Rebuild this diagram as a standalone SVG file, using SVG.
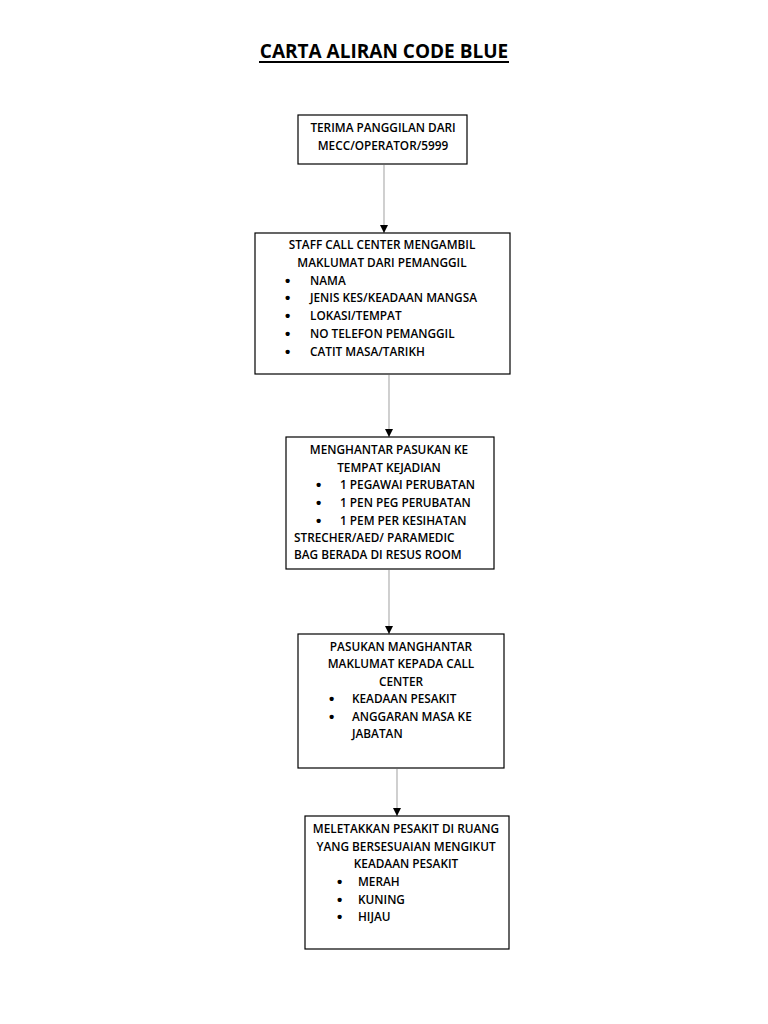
<svg xmlns="http://www.w3.org/2000/svg" width="768" height="1024" viewBox="0 0 768 1024">
<defs>
<marker id="ah" viewBox="0 0 10 10" refX="10" refY="5" markerWidth="8" markerHeight="8" markerUnits="userSpaceOnUse" orient="auto">
<path d="M0,0 L10,5 L0,10 Z" fill="#000"/>
</marker>
<style>
.box{fill:#fff;stroke:#000;stroke-width:1.2}
.t{font-family:"Open Sans","Liberation Sans",sans-serif;font-size:11.8px;font-weight:600;fill:#000}
.b{font-family:"Liberation Sans",sans-serif;font-size:15px;font-weight:700;fill:#000}
.c{text-anchor:middle}
.conn{stroke:#b0b0b0;stroke-width:1.2;fill:none}
</style>
</defs>
<rect width="768" height="1024" fill="#fff"/>
<g id="title">
<text x="384" y="58" class="c" style="font-family:'Open Sans','Liberation Sans',sans-serif;font-size:19px;font-weight:700">CARTA ALIRAN CODE BLUE</text>
<line x1="259" y1="62" x2="509" y2="62" stroke="#000" stroke-width="2"/>
</g>
<g id="connectors">
<line class="conn" x1="384" y1="165" x2="384" y2="233" marker-end="url(#ah)"/>
<line class="conn" x1="389" y1="375" x2="389" y2="437" marker-end="url(#ah)"/>
<line class="conn" x1="389" y1="570" x2="389" y2="634" marker-end="url(#ah)"/>
<line class="conn" x1="397" y1="769" x2="397" y2="816" marker-end="url(#ah)"/>
</g>
<g id="n1">
<rect class="box" x="298" y="115" width="169" height="49"/>
<text class="t c" x="383" y="132">TERIMA PANGGILAN DARI</text>
<text class="t c" x="383" y="150">MECC/OPERATOR/5999</text>
</g>
<g id="n2">
<rect class="box" x="255" y="233" width="255" height="141"/>
<text class="t c" x="382" y="249">STAFF CALL CENTER MENGAMBIL</text>
<text class="t c" x="382" y="267">MAKLUMAT DARI PEMANGGIL</text>
<text class="b" x="285" y="286">•</text><text class="t" x="310" y="285">NAMA</text>
<text class="b" x="285" y="303">•</text><text class="t" x="310" y="302">JENIS KES/KEADAAN MANGSA</text>
<text class="b" x="285" y="321">•</text><text class="t" x="310" y="320">LOKASI/TEMPAT</text>
<text class="b" x="285" y="339">•</text><text class="t" x="310" y="338">NO TELEFON PEMANGGIL</text>
<text class="b" x="285" y="357">•</text><text class="t" x="310" y="356">CATIT MASA/TARIKH</text>
</g>
<g id="n3">
<rect class="box" x="286" y="437" width="208" height="132"/>
<text class="t c" x="389" y="454">MENGHANTAR PASUKAN KE</text>
<text class="t c" x="389" y="472">TEMPAT KEJADIAN</text>
<text class="b" x="316" y="490">•</text><text class="t" x="340" y="489">1 PEGAWAI PERUBATAN</text>
<text class="b" x="316" y="508">•</text><text class="t" x="340" y="507">1 PEN PEG PERUBATAN</text>
<text class="b" x="316" y="526">•</text><text class="t" x="340" y="525">1 PEM PER KESIHATAN</text>
<text class="t" x="294" y="542">STRECHER/AED/ PARAMEDIC</text>
<text class="t" x="294" y="559">BAG BERADA DI RESUS ROOM</text>
</g>
<g id="n4">
<rect class="box" x="298" y="634" width="206" height="134"/>
<text class="t c" x="401" y="651">PASUKAN MANGHANTAR</text>
<text class="t c" x="401" y="668">MAKLUMAT KEPADA CALL</text>
<text class="t c" x="401" y="686">CENTER</text>
<text class="b" x="329" y="704">•</text><text class="t" x="352" y="703">KEADAAN PESAKIT</text>
<text class="b" x="329" y="722">•</text><text class="t" x="352" y="721">ANGGARAN MASA KE</text>
<text class="t" x="352" y="738">JABATAN</text>
</g>
<g id="n5">
<rect class="box" x="305" y="816" width="204" height="133"/>
<text class="t c" x="406" y="833">MELETAKKAN PESAKIT DI RUANG</text>
<text class="t c" x="406" y="851">YANG BERSESUAIAN MENGIKUT</text>
<text class="t c" x="406" y="868">KEADAAN PESAKIT</text>
<text class="b" x="337" y="887">•</text><text class="t" x="358" y="886">MERAH</text>
<text class="b" x="337" y="905">•</text><text class="t" x="358" y="904">KUNING</text>
<text class="b" x="337" y="922">•</text><text class="t" x="358" y="921">HIJAU</text>
</g>
</svg>
